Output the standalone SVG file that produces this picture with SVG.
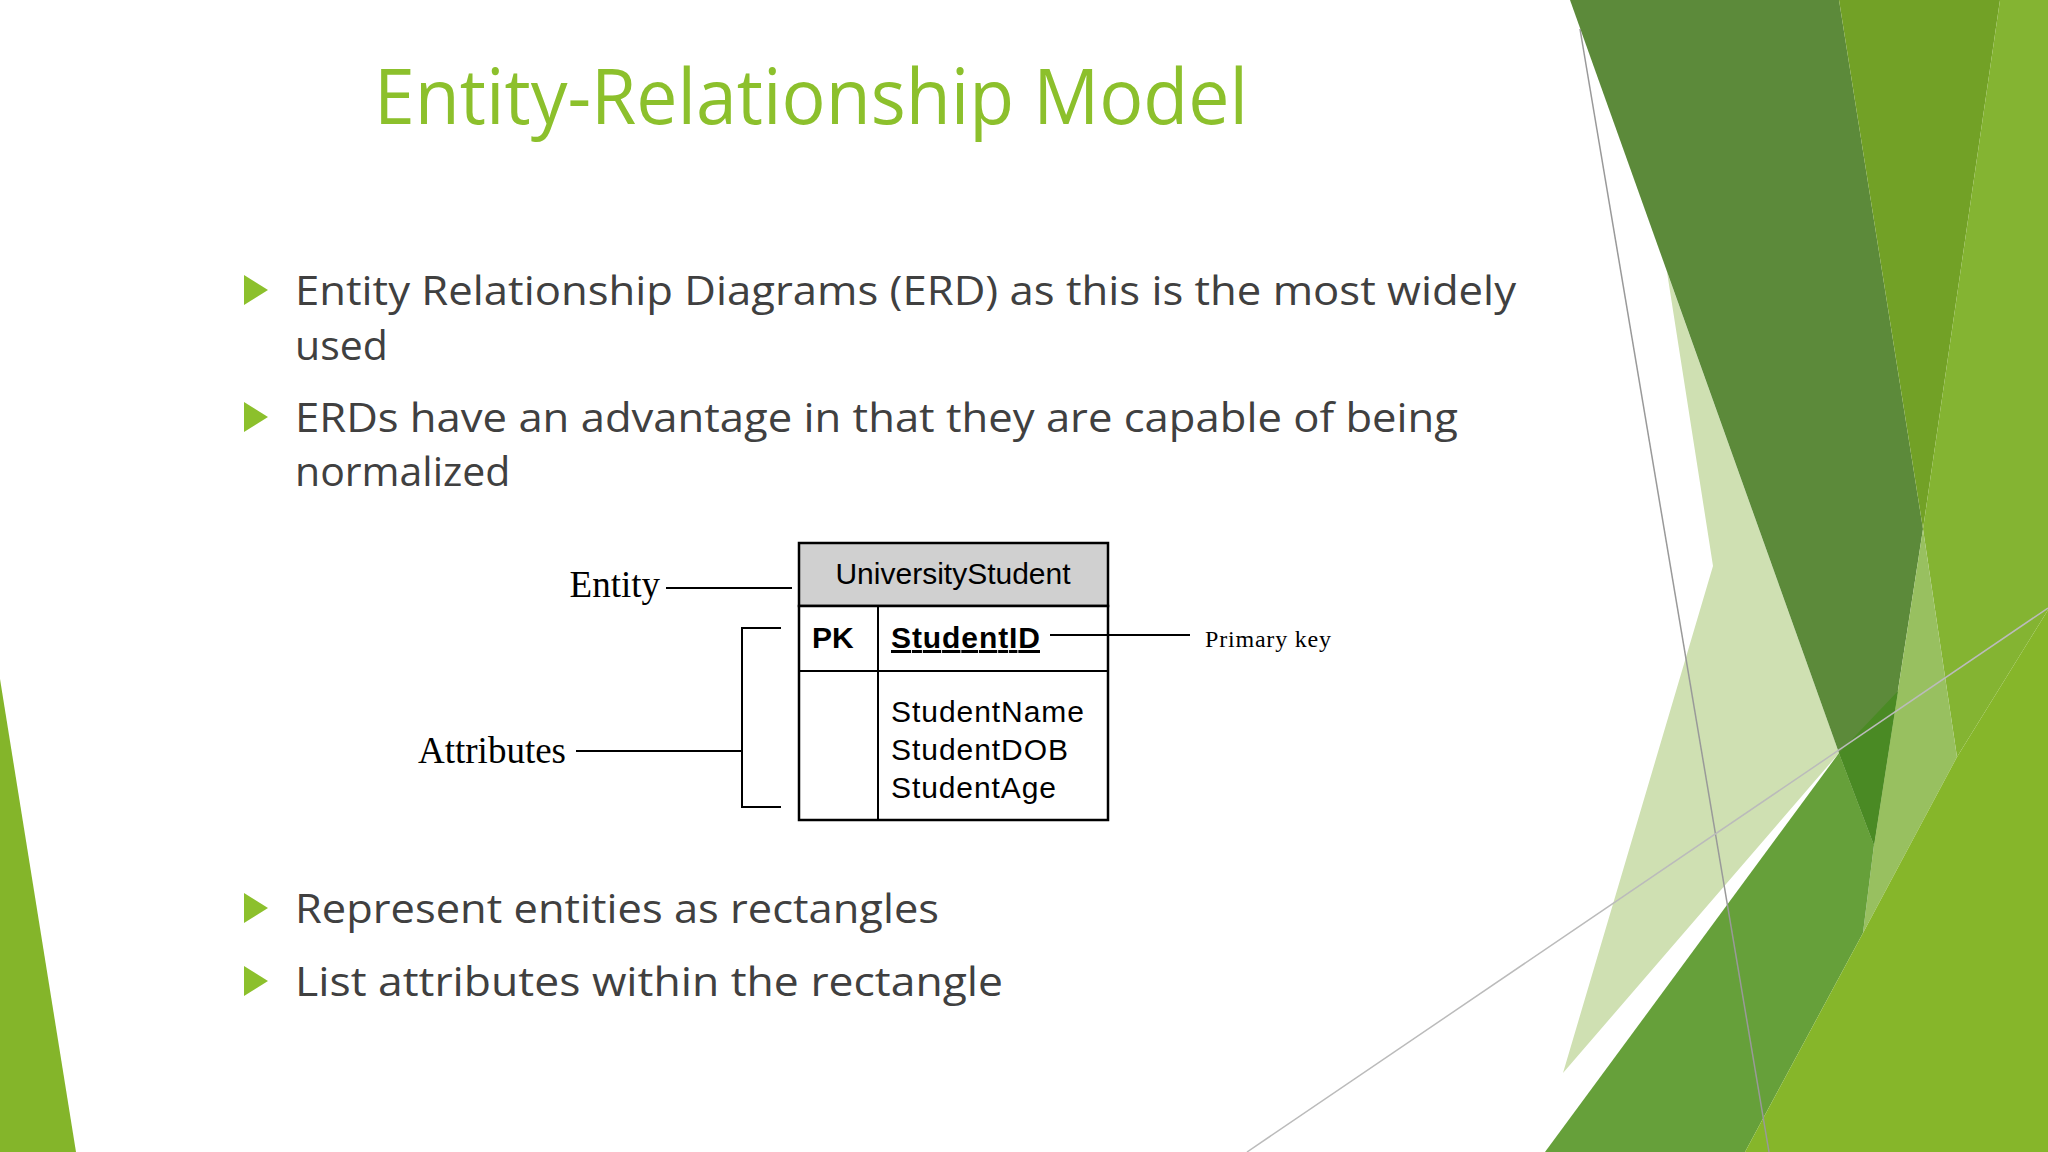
<svg xmlns="http://www.w3.org/2000/svg" width="2048" height="1152" viewBox="0 0 2048 1152">
<style>
.b{font-family:"Open Sans","Noto Sans",sans-serif;font-size:41px;fill:#404040}
.tm{font-family:"Liberation Serif",serif;fill:#000}
.ar{font-family:"Liberation Sans",Arial,sans-serif;font-size:30px;fill:#000}
.ln{stroke:#000;stroke-width:2;fill:none}
.bul{fill:#8cc02c}
</style>
<rect width="2048" height="1152" fill="#fff"/>
<g id="background">
<polygon points="0,679 0,1152 76,1152" fill="#84b52a"/>
<polygon points="1667,272 1713,566 1563,1073 1839,753" fill="#cfe0b2"/>
<polygon points="1570,0 1839,0 1923,529 1874,845 1839,753" fill="#5c8a3a"/>
<polygon points="1839,0 2000,0 1923,529" fill="#72a126"/>
<polygon points="2000,0 2048,0 2048,610 1957,757 1923,529" fill="#84b432"/>
<polygon points="1923,529 1957,757 1863,933 1874,845" fill="#98c060"/>
<polygon points="1545,1152 1839,753 1874,845 1863,933 1745,1152" fill="#66a03a"/>
<polygon points="1839,753 1898,691 1874,845" fill="#4a8a24"/>
<polygon points="2048,610 2048,1152 1745,1152 1863,933 1957,757" fill="#86b62a"/>
<line x1="1580" y1="29" x2="1769" y2="1152" stroke="#999" stroke-width="1.5"/>
<line x1="1247" y1="1152" x2="2048" y2="608" stroke="#bbb" stroke-width="1.5"/>
</g>
<text x="811" y="124" text-anchor="middle" font-family="'Open Sans','Noto Sans',sans-serif" font-size="76" fill="#8cc02c" textLength="874" lengthAdjust="spacingAndGlyphs">Entity-Relationship Model</text>
<g id="bullets">
<polygon class="bul" points="244,275 244,305 268,290"/>
<polygon class="bul" points="244,402 244,432 268,417"/>
<polygon class="bul" points="244,893 244,923 268,908"/>
<polygon class="bul" points="244,966 244,996 268,981"/>
<text class="b" x="295" y="305" textLength="1221" lengthAdjust="spacingAndGlyphs">Entity Relationship Diagrams (ERD) as this is the most widely</text>
<text class="b" x="295" y="360">used</text>
<text class="b" x="295" y="432" textLength="1163" lengthAdjust="spacingAndGlyphs">ERDs have an advantage in that they are capable of being</text>
<text class="b" x="295" y="486">normalized</text>
<text class="b" x="295" y="923" textLength="644" lengthAdjust="spacingAndGlyphs">Represent entities as rectangles</text>
<text class="b" x="295" y="996" textLength="708" lengthAdjust="spacingAndGlyphs">List attributes within the rectangle</text>
</g>
<g id="entity">
<rect x="799" y="543" width="309" height="63" fill="#d0d0d0" stroke="#000" stroke-width="2.5"/>
<rect x="799" y="606" width="309" height="214" fill="#fff" stroke="#000" stroke-width="2.5"/>
<line class="ln" x1="799" y1="671" x2="1108" y2="671" stroke-width="2.5"/>
<line class="ln" x1="878" y1="606" x2="878" y2="820" stroke-width="2.5"/>
<text class="ar" x="953" y="584" text-anchor="middle">UniversityStudent</text>
<text class="ar" x="812" y="648" font-weight="bold">PK</text>
<text class="ar" x="891" y="648" font-weight="bold" text-decoration="underline" textLength="149">StudentID</text>
<text class="ar" x="891" y="722" textLength="193">StudentName</text>
<text class="ar" x="891" y="760" textLength="177">StudentDOB</text>
<text class="ar" x="891" y="798" textLength="165">StudentAge</text>
</g>
<g id="labels">
<text class="tm" x="660" y="597" font-size="37" text-anchor="end">Entity</text>
<text class="tm" x="566" y="763" font-size="37" text-anchor="end">Attributes</text>
<text class="tm" x="1205" y="647" font-size="24" textLength="126">Primary key</text>
</g>
<g id="connectors">
<line class="ln" x1="666" y1="588" x2="792" y2="588"/>
<line class="ln" x1="576" y1="751" x2="742" y2="751"/>
<polyline class="ln" points="781,628 742,628 742,807 781,807"/>
<line class="ln" x1="1050" y1="635" x2="1190" y2="635"/>
</g>
</svg>
